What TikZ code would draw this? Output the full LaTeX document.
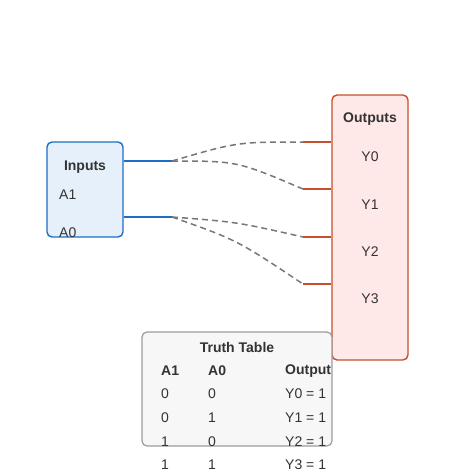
\documentclass[tikz,border=0pt]{standalone}
\usepackage{fontspec}
\setmainfont{Liberation Sans}
\definecolor{inblue}{HTML}{1E6EC6}
\definecolor{infill}{HTML}{E6F0FB}
\definecolor{outred}{HTML}{C4502E}
\definecolor{outfill}{HTML}{FFE8E8}
\definecolor{tabfill}{HTML}{F7F7F7}
\definecolor{tabline}{HTML}{9C9C9C}
\definecolor{wiregray}{HTML}{777777}
\definecolor{ink}{HTML}{333333}
\tikzset{
  box/.style={draw, line width=1.4pt, rounded corners=5pt, inner sep=0pt},
  wire/.style={line width=2pt},
  link/.style={wiregray, line width=1.5pt, dash pattern=on 6pt off 4pt},
  txt/.style={inner sep=0pt, anchor=west, text=ink},
  lbl/.style={inner sep=0pt, text=ink},
  head/.style={inner sep=0pt, text=ink, font=\fontsize{14}{16}\selectfont\bfseries},
}
\begin{document}
\begin{tikzpicture}[x=1pt,y=-1pt,font=\fontsize{14}{16}\selectfont]
            \useasboundingbox (0,0) rectangle (474,474);

            % Ingressi
            \node[box, draw=inblue, fill=infill, minimum width=76pt, minimum height=95pt] (inputs) at (85,189.5) {};
            \node[head] (intitle) at (85,167) {Inputs};
            \node[txt] (inA1) at (59,195) {A1};
            \node[txt] (inA0) at (59,233) {A0};

            % Uscite
            \node[box, draw=outred, fill=outfill, minimum width=76pt, minimum height=265pt] (outputs) at (370,227.5) {};
            \node[head] (outtitle) at (370,119) {Outputs};
            \node[lbl] (outY0) at (370,157) {Y0};
            \node[lbl] (outY1) at (370,205) {Y1};
            \node[lbl] (outY2) at (370,252) {Y2};
            \node[lbl] (outY3) at (370,299) {Y3};

            % Punti di giunzione
            \coordinate (jA1) at (172,161);
            \coordinate (jA0) at (172,217);
            \coordinate (tY0) at (303,142);
            \coordinate (tY1) at (303,189);
            \coordinate (tY2) at (303,237);
            \coordinate (tY3) at (303,284);

            % Fili
            \draw[wire,inblue] (inputs.east |- jA1) -- (jA1);
            \draw[wire,inblue] (inputs.east |- jA0) -- (jA0);
            \foreach \t in {tY0,tY1,tY2,tY3}
              \draw[wire,outred] (\t) -- (\t -| outputs.west);

            % Collegamenti tratteggiati
            \draw[link] (jA1) .. controls (237,142) .. (tY0);
            \draw[link] (jA1) .. controls (237,161) .. (tY1);
            \draw[link] (jA0) .. controls (237,222) .. (tY2);
            \draw[link] (jA0) .. controls (237,240) .. (tY3);

            % Tabella di verita
            \node[box, draw=tabline, line width=1.2pt, fill=tabfill, minimum width=190pt, minimum height=114pt] (table) at (237,389) {};
            \node[head] (tabtitle) at (237,347) {Truth Table};
            \node[head,anchor=west] (hA1) at (161,371) {A1};
            \node[head,anchor=west] (hA0) at (208,371) {A0};
            \node[head,anchor=west] (hOut) at (285,371) {Output};
            \foreach \a/\b/\y/\k in {0/0/394/0, 0/1/418/1, 1/0/442/2, 1/1/465/3} {
              \node[txt] (r\k a) at (161,\y) {\a};
              \node[txt] (r\k b) at (208,\y) {\b};
              \node[txt] (r\k o) at (285,\y) {Y\k{} = 1};
            }
        \end{tikzpicture}
\end{document}
